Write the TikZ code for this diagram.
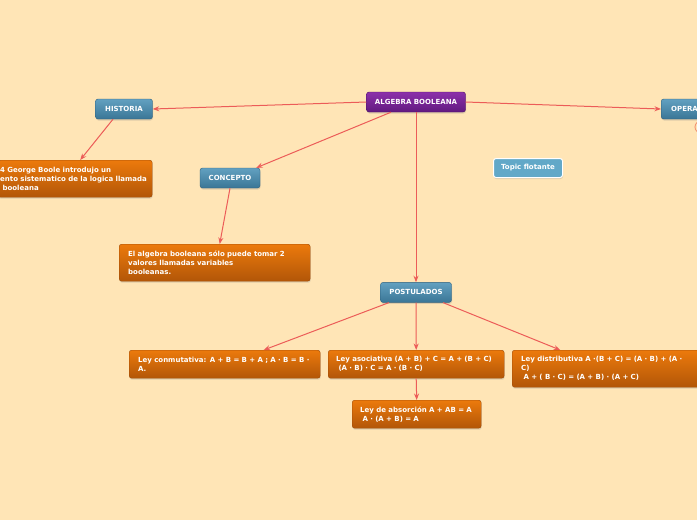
\documentclass[tikz,border=0pt]{standalone}
\usepackage{fontspec}
\setmainfont{DejaVu Sans}
\usepackage{tikz}
\usetikzlibrary{positioning,arrows.meta,shadows}
\definecolor{paper}{RGB}{255,229,182}
\definecolor{link}{RGB}{236,92,88}
\definecolor{topicA}{RGB}{98,160,192}
\definecolor{topicB}{RGB}{58,118,150}
\definecolor{topicE}{RGB}{45,95,125}
\definecolor{rootA}{RGB}{140,48,170}
\definecolor{rootB}{RGB}{98,26,128}
\definecolor{rootE}{RGB}{75,15,100}
\definecolor{leafA}{RGB}{236,122,12}
\definecolor{leafB}{RGB}{178,86,8}
\definecolor{leafE}{RGB}{160,76,8}
\definecolor{floatbg}{RGB}{98,168,200}
\definecolor{foldc}{RGB}{240,140,110}
\tikzset{
  base/.style={rounded corners=2.5pt,font=\fontsize{7}{9}\selectfont\bfseries,text=white,
    drop shadow={shadow xshift=0.5pt,shadow yshift=-1.5pt,opacity=0.25}},
  topic/.style={base,draw=topicE,top color=topicA,bottom color=topicB,minimum height=20pt,inner xsep=6pt,inner ysep=0pt},
  root/.style={topic,draw=rootE,top color=rootA,bottom color=rootB},
  leaf/.style={base,draw=leafE,top color=leafA,bottom color=leafB,align=left,anchor=north west,inner xsep=9pt,inner ysep=2pt},
  ln/.style={-{Stealth[length=6.5pt,width=5pt]},link,line width=1pt},
}
\begin{document}
\begin{tikzpicture}[x=1pt,y=-1pt,
  floaty/.style={base,draw=white,line width=1pt,fill=floatbg,minimum height=19pt,inner xsep=6pt,inner ysep=0pt}]
  \clip (0,0) rectangle (697,520);
  \fill[paper] (0,0) rectangle (697,520);
  \node[root,minimum width=99pt] (alg) at (416,102) {ALGEBRA BOOLEANA};
  \node[topic,minimum width=57pt] (hist) at (124,109) {HISTORIA};
  \node[topic,anchor=west,align=left,text width=50pt,inner xsep=10pt] (ops) at (661,109) {OPERA};
  \node[draw=foldc,line width=0.8pt,circle,minimum size=12pt,inner sep=0pt] (fold) at (701,127) {};
  \node[topic,minimum width=60pt] (conc) at (230,178) {CONCEPTO};
  \node[floaty,minimum width=69pt] (flot) at (528,168) {Topic flotante};
  \node[topic,below=170pt of alg,minimum width=71pt] (post) {POSTULADOS};
  \node[leaf,inner xsep=2pt,text width=150pt,minimum height=37pt] (hx) at (-2,160)
    {4 George Boole introdujo un\\ento sistematico de la logica llamada\\~booleana};
  \node[leaf,text width=173pt,minimum height=37pt] (cx) at (119,244)
    {El algebra booleana sólo puede tomar 2\\valores llamadas variables\\booleanas.};
  \node[leaf,text width=173pt,minimum height=28pt] (conm) at (129,350)
    {Ley conmutativa: A + B = B + A ; A · B = B ·\\A.};
  \node[leaf,inner xsep=8pt,text width=160pt,minimum height=28pt] (asoc) at (328,350)
    {Ley asociativa (A + B) + C = A + (B + C)\\~(A · B) · C = A · (B · C)};
  \node[leaf,text width=182pt,minimum height=37pt] (dist) at (512,350)
    {Ley distributiva A ·(B + C) = (A · B) + (A ·\\C)\\~A + ( B · C) = (A + B) · (A + C)};
  \node[leaf,inner xsep=8pt,text width=113pt,minimum height=28pt] (abs) at (352,400)
    {Ley de absorción A + AB = A\\~A · (A + B) = A};
  \draw[ln] (alg.west) -- (hist.east);
  \draw[ln] (alg.east) -- (ops.west);
  \draw[ln] ([xshift=-25pt]alg.south) -- ([xshift=-4pt]conc.north east);
  \draw[ln] (alg.south) -- (post.north);
  \draw[ln] ([xshift=-11pt]hist.south) -- ([xshift=5pt]hx.north);
  \draw[ln] (conc.south) -- ([xshift=5pt]cx.north);
  \draw[ln] ([xshift=-27pt]post.south) -- ([xshift=39pt]conm.north);
  \draw[ln] (post.south) -- (asoc.north);
  \draw[ln] ([xshift=27pt]post.south) -- ([xshift=-52pt]dist.north);
  \draw[ln] (asoc.south) -- (abs.north);
\end{tikzpicture}
\end{document}
